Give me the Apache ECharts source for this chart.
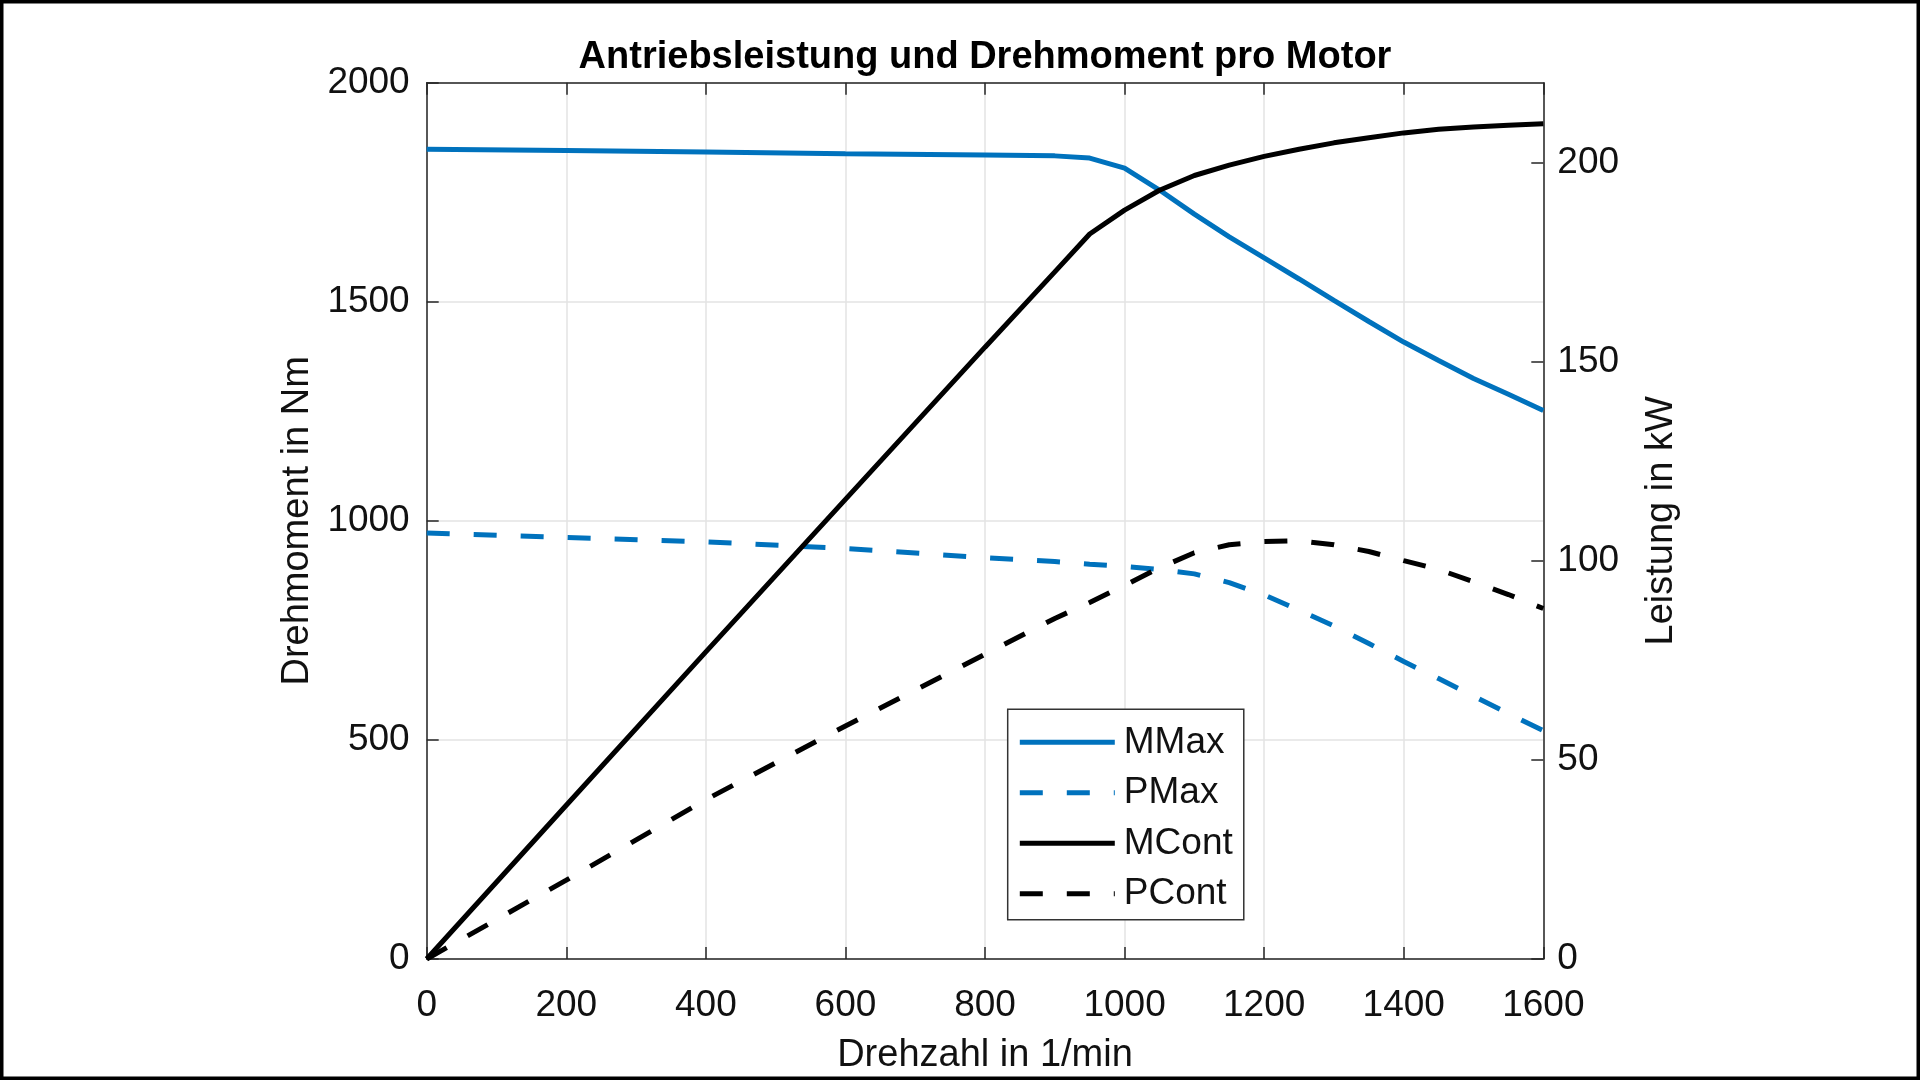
<!DOCTYPE html>
<html>
<head>
<meta charset="utf-8">
<script src="https://cdn.jsdelivr.net/npm/echarts@6/dist/echarts.min.js"></script>
<style>
  html, body { margin: 0; padding: 0; background: #fff; }
  #chart { width: 1920px; height: 1080px; }
</style>
</head>
<body>
<div id="chart"></div>
<script>
// Drehzahl in 1/min
const rpm   = [0, 200, 400, 600, 800, 900, 950, 1000, 1050, 1100, 1150, 1200, 1250, 1300, 1350, 1400, 1450, 1500, 1550, 1600];
// MMax (blue solid, Nm, left axis)
const mMax  = [1848, 1845, 1842, 1838, 1835, 1833, 1828, 1805, 1755, 1700, 1648, 1600, 1552, 1503, 1455, 1408, 1366, 1325, 1289, 1252];
// PMax (blue dashed, Nm, left axis)
const pMax  = [972, 962, 952, 937, 916, 907, 901, 896, 889, 879, 859, 831, 796, 760, 720, 679, 640, 600, 560, 521];
// MCont (black solid, kW, right axis)
const mCont = [0, 38.6, 77.1, 115.4, 153.6, 172.5, 182, 188, 193, 196.7, 199.3, 201.5, 203.3, 204.9, 206.2, 207.4, 208.3, 208.9, 209.3, 209.7];
// PCont (black dashed, kW, right axis)
const pCont = [0, 19.8, 40, 58.5, 76.5, 85.5, 89.5, 93.8, 98.2, 102, 104, 104.8, 105, 104, 102.3, 100, 97.8, 94.7, 91.5, 88];

const seriesNames = ['MMax', 'PMax', 'MCont', 'PCont'];
const titleText = 'Antriebsleistung und Drehmoment pro Motor';
const xName = 'Drehzahl in 1/min';
const yLeftName = 'Drehmoment in Nm';
const yRightName = 'Leistung in kW';

const FONT = "'Liberation Sans', Arial, Helvetica, sans-serif";
const AXIS_COLOR = '#262626';
const BLUE = '#0072BD';
const DASH = [23, 24];
const LW = 5;

const pairs = ys => rpm.map((x, i) => [x, ys[i]]);
const plain = v => String(v);

const chart = echarts.init(document.getElementById('chart'), null, { renderer: 'canvas' });

const tickStyle = { show: true, inside: true, length: 12, lineStyle: { color: AXIS_COLOR, width: 1.5 } };
const lineStyleAxis = { show: true, onZero: false, lineStyle: { color: AXIS_COLOR, width: 1.5 } };
const labelStyle = { fontFamily: FONT, fontSize: 37, color: '#111', formatter: plain };

chart.setOption({
  animation: false,
  backgroundColor: '#fff',
  textStyle: { fontFamily: FONT },
  title: {
    text: titleText,
    left: 985,
    top: 39,
    padding: 0,
    textAlign: 'center',
    textStyle: { fontFamily: FONT, fontSize: 38, fontWeight: 'bold', color: '#000' }
  },
  grid: { left: 426.7, right: 376.7, top: 82.7, bottom: 118.5, containLabel: false },
  legend: {
    data: seriesNames,
    orient: 'vertical',
    left: 1007.7,
    top: 709.3,
    padding: [14, 11, 7, 9.6],
    itemWidth: 95,
    itemHeight: 10,
    itemGap: 12.5,
    backgroundColor: '#fff',
    borderColor: '#333',
    borderWidth: 1.5,
    borderRadius: 0,
    itemStyle: { opacity: 0 },
    lineStyle: { width: 'inherit', type: 'inherit' },
    textStyle: { fontFamily: FONT, fontSize: 37, color: '#111', lineHeight: 38, padding: [0, 0, 0, 4] }
  },
  xAxis: [
    {
      type: 'value', min: 0, max: 1600, interval: 200, position: 'bottom',
      name: xName, nameLocation: 'middle', nameGap: 78,
      nameTextStyle: { fontFamily: FONT, fontSize: 38, color: '#111' },
      axisLine: lineStyleAxis, axisTick: tickStyle,
      axisLabel: Object.assign({ margin: 28 }, labelStyle),
      splitLine: { show: true, lineStyle: { color: '#e3e3e3', width: 1.5 } }
    },
    {
      type: 'value', min: 0, max: 1600, interval: 200, position: 'top',
      axisLine: lineStyleAxis, axisTick: tickStyle,
      axisLabel: { show: false }, splitLine: { show: false }
    }
  ],
  yAxis: [
    {
      type: 'value', min: 0, max: 2000, interval: 500, position: 'left',
      name: yLeftName, nameLocation: 'middle', nameGap: 102, nameRotate: 90,
      nameTextStyle: { fontFamily: FONT, fontSize: 38, color: '#111' },
      axisLine: lineStyleAxis, axisTick: tickStyle,
      axisLabel: Object.assign({ margin: 17 }, labelStyle),
      splitLine: { show: true, lineStyle: { color: '#e3e3e3', width: 1.5 } }
    },
    {
      type: 'value', min: 0, max: 220, interval: 50, position: 'right',
      name: yRightName, nameLocation: 'middle', nameGap: 99, nameRotate: 90,
      nameTextStyle: { fontFamily: FONT, fontSize: 38, color: '#111' },
      axisLine: lineStyleAxis, axisTick: tickStyle,
      axisLabel: Object.assign({ margin: 14, showMaxLabel: false }, labelStyle),
      splitLine: { show: false }
    }
  ],
  series: [
    { name: seriesNames[0], type: 'line', xAxisIndex: 0, yAxisIndex: 0, data: pairs(mMax),
      symbol: 'none', color: BLUE, lineStyle: { color: BLUE, width: LW, type: 'solid' } },
    { name: seriesNames[1], type: 'line', xAxisIndex: 0, yAxisIndex: 0, data: pairs(pMax),
      symbol: 'none', color: BLUE, lineStyle: { color: BLUE, width: LW, type: DASH } },
    { name: seriesNames[2], type: 'line', xAxisIndex: 0, yAxisIndex: 1, data: pairs(mCont),
      symbol: 'none', color: '#000', lineStyle: { color: '#000', width: LW, type: 'solid' } },
    { name: seriesNames[3], type: 'line', xAxisIndex: 0, yAxisIndex: 1, data: pairs(pCont),
      symbol: 'none', color: '#000', lineStyle: { color: '#000', width: LW, type: DASH } }
  ],
  graphic: [
    { type: 'rect', silent: true, z: 100,
      shape: { x: 0, y: 0, width: 1920, height: 1080 },
      style: { fill: 'none', stroke: '#000', lineWidth: 7 } }
  ]
});
</script>
</body>
</html>
